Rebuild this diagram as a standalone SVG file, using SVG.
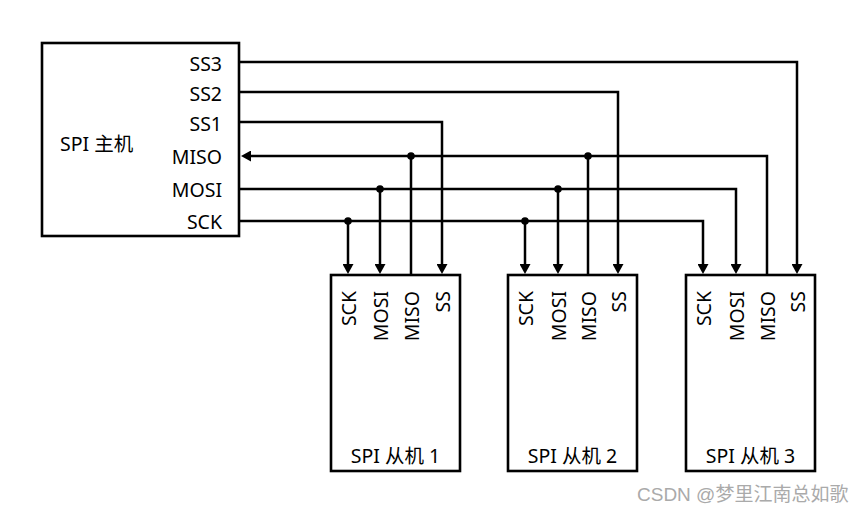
<svg xmlns="http://www.w3.org/2000/svg" width="865" height="513" viewBox="0 0 865 513">
<style>
  .box{fill:#fff;stroke:#000;stroke-width:2.6}
  .w{fill:none;stroke:#000;stroke-width:2.5}
  .a{marker-end:url(#arr)}
  .t{font-family:"Noto Sans","Noto Sans CJK SC",sans-serif;font-size:19.5px;fill:#000}
  .r{text-anchor:end}
  .m{text-anchor:middle}
  .dot{fill:#000}
  .wm{font-family:"Liberation Sans","Noto Sans CJK SC",sans-serif;font-size:19px;fill:#aaaaaa}
</style>
<defs>
  <marker id="arr" markerUnits="userSpaceOnUse" markerWidth="10" markerHeight="11" refX="0" refY="5.5" orient="auto" viewBox="0 0 10 11">
    <path d="M0,0 L10,5.5 L0,11 z" fill="#000"/>
  </marker>
</defs>
<rect width="865" height="513" fill="#fff"/>

<g id="master">
  <rect class="box" x="42" y="43" width="197" height="193"/>
  <text class="t" x="60" y="151">SPI 主机</text>
  <text class="t r" x="222" y="71">SS3</text>
  <text class="t r" x="222" y="101">SS2</text>
  <text class="t r" x="222" y="131">SS1</text>
  <text class="t r" x="222" y="164">MISO</text>
  <text class="t r" x="222" y="197">MOSI</text>
  <text class="t r" x="222" y="229">SCK</text>
</g>

<g id="slave1">
  <rect class="box" x="331" y="275" width="129" height="196"/>
  <text class="t r" transform="translate(355.5,291) rotate(-90)">SCK</text>
  <text class="t r" transform="translate(387.5,291) rotate(-90)">MOSI</text>
  <text class="t r" transform="translate(418.5,291) rotate(-90)">MISO</text>
  <text class="t r" transform="translate(449.5,291) rotate(-90)">SS</text>
  <text class="t m" x="395.5" y="463">SPI 从机 1</text>
</g>

<g id="slave2">
  <rect class="box" x="508" y="275" width="129" height="196"/>
  <text class="t r" transform="translate(532.5,291) rotate(-90)">SCK</text>
  <text class="t r" transform="translate(565.5,291) rotate(-90)">MOSI</text>
  <text class="t r" transform="translate(595.5,291) rotate(-90)">MISO</text>
  <text class="t r" transform="translate(625.5,291) rotate(-90)">SS</text>
  <text class="t m" x="572.5" y="463">SPI 从机 2</text>
</g>

<g id="slave3">
  <rect class="box" x="686" y="275" width="129" height="196"/>
  <text class="t r" transform="translate(710.5,291) rotate(-90)">SCK</text>
  <text class="t r" transform="translate(743.5,291) rotate(-90)">MOSI</text>
  <text class="t r" transform="translate(774.5,291) rotate(-90)">MISO</text>
  <text class="t r" transform="translate(804.5,291) rotate(-90)">SS</text>
  <text class="t m" x="750.5" y="463">SPI 从机 3</text>
</g>

<g id="connectors">
  <path class="w a" d="M239,62 H797 V264"/>
  <path class="w a" d="M239,92 H618 V264"/>
  <path class="w a" d="M239,122 H442 V264"/>
  <path class="w a" d="M767,274 V156 H251"/>
  <path class="w" d="M411,274 V156"/>
  <path class="w" d="M588,274 V156"/>
  <path class="w a" d="M239,189 H736 V264"/>
  <path class="w a" d="M380,189 V264"/>
  <path class="w a" d="M558,189 V264"/>
  <path class="w a" d="M239,221 H703 V264"/>
  <path class="w a" d="M348,221 V264"/>
  <path class="w a" d="M525,221 V264"/>
  <circle class="dot" cx="411" cy="156" r="3.8"/>
  <circle class="dot" cx="588" cy="156" r="3.8"/>
  <circle class="dot" cx="380" cy="189" r="3.8"/>
  <circle class="dot" cx="558" cy="189" r="3.8"/>
  <circle class="dot" cx="348" cy="221" r="3.8"/>
  <circle class="dot" cx="525" cy="221" r="3.8"/>
</g>

<text class="wm" x="637" y="501">CSDN @梦里江南总如歌</text>
</svg>
